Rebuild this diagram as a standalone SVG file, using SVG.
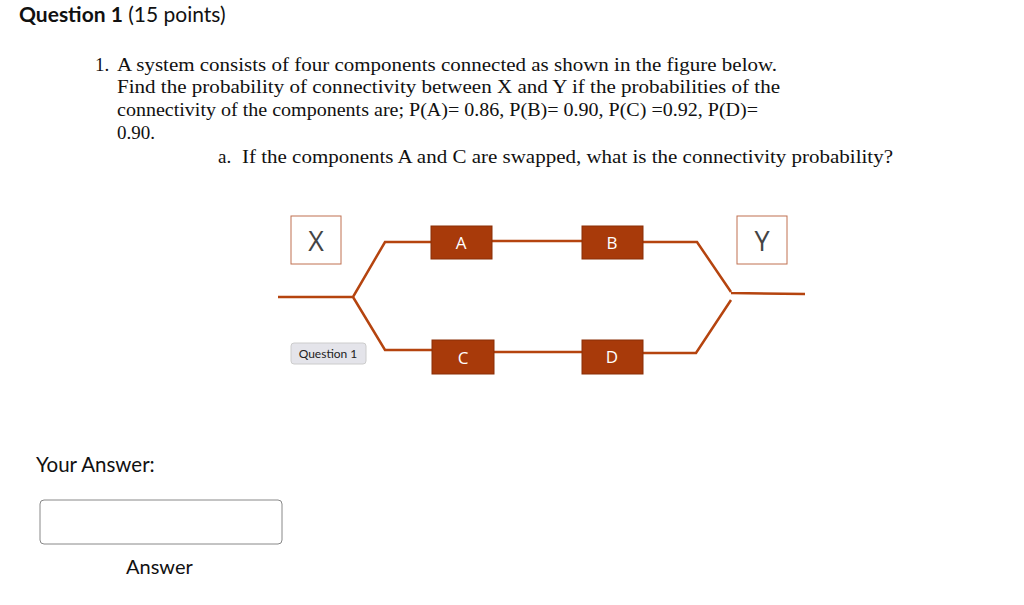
<svg xmlns="http://www.w3.org/2000/svg" width="1024" height="605" viewBox="0 0 1024 605">
<style>
.t{font-family:"Liberation Serif",serif;font-size:19px;fill:#111}
.s{font-family:Lato,"Liberation Sans",sans-serif;fill:#111}
.box{fill:#a83a0a;stroke:#8a2e06;stroke-width:1}
.bl{font-family:"Open Sans","Liberation Sans",sans-serif;font-size:17px;fill:#fff;text-anchor:middle}
.xy{fill:#fff;stroke:#c07050;stroke-width:1}
.w{stroke:#b5440f;stroke-width:2.5;fill:none}
</style>
<rect width="1024" height="605" fill="#fff"/>
<text x="19" y="22" class="s" font-size="21"><tspan font-weight="bold">Question 1</tspan> (15 points)</text>
<text x="95" y="71" class="t" font-size="14">1.</text>
<text x="117" y="71" class="t" textLength="660" lengthAdjust="spacingAndGlyphs">A system consists of four components connected as shown in the figure below.</text>
<text x="117" y="93" class="t" textLength="663" lengthAdjust="spacingAndGlyphs">Find the probability of connectivity between X and Y if the probabilities of the</text>
<text x="117" y="116" class="t" textLength="641" lengthAdjust="spacingAndGlyphs">connectivity of the components are; P(A)= 0.86, P(B)= 0.90, P(C) =0.92, P(D)=</text>
<text x="117" y="139" class="t">0.90.</text>
<text x="218" y="163" class="t" font-size="16">a.</text>
<text x="242" y="163" class="t" textLength="651" lengthAdjust="spacingAndGlyphs">If the components A and C are swapped, what is the connectivity probability?</text>
<g id="connectors">
<path class="w" d="M278 297H353L385 242H431M353 297L385 350H432M492 241H582M643 242H697L731 292M731 293L805 294M643 353H696L731 300M494 352H582"/>
</g>
<g id="X"><rect class="xy" x="291" y="216" width="50" height="48"/><text x="316" y="251" font-family="Open Sans,sans-serif" font-size="27" fill="#444" text-anchor="middle">X</text></g>
<g id="Y"><rect class="xy" x="737" y="216" width="50" height="48"/><text x="762" y="251" font-family="Open Sans,sans-serif" font-size="27" fill="#444" text-anchor="middle">Y</text></g>
<g id="A"><rect class="box" x="431" y="226" width="61" height="33"/><text class="bl" x="461" y="249">A</text></g>
<g id="B"><rect class="box" x="582" y="226" width="61" height="33"/><text class="bl" x="612" y="249">B</text></g>
<g id="C"><rect class="box" x="432" y="340" width="62" height="34"/><text class="bl" x="463" y="364">C</text></g>
<g id="D"><rect class="box" x="582" y="340" width="61" height="34"/><text class="bl" x="612" y="363">D</text></g>
<g id="tip"><rect x="291" y="343" width="75" height="21" rx="3" fill="#e4e4ea" stroke="#ccc"/><text x="328" y="358" font-family="Lato,sans-serif" font-size="12" fill="#222" text-anchor="middle">Question 1</text></g>
<text x="36" y="472" class="s" font-size="20.5">Your Answer:</text>
<rect x="40" y="500" width="242" height="44" rx="4" fill="#fff" stroke="#888"/>
<text x="126" y="574" class="s" font-size="20">Answer</text>
</svg>
